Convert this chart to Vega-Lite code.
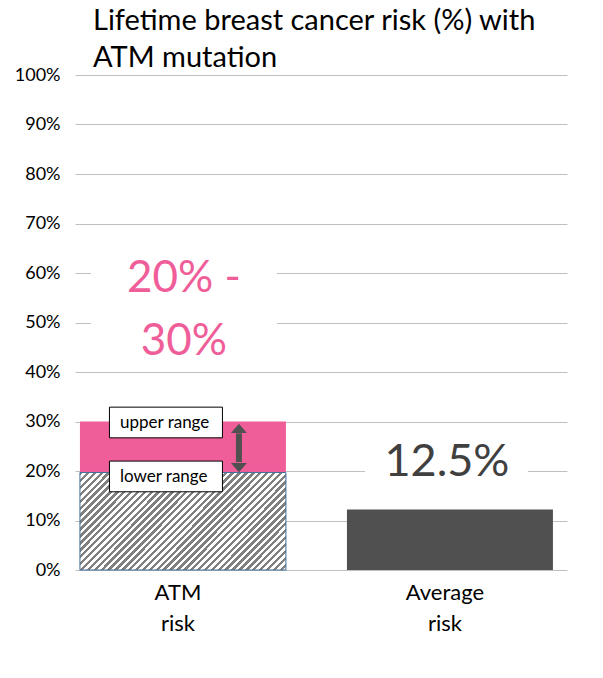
{
  "$schema": "https://vega.github.io/schema/vega-lite/v6.json",
  "autosize": "none",
  "width": 492,
  "height": 495,
  "padding": {"left": 75, "top": 75, "right": 36, "bottom": 108},
  "background": "white",
  "config": {"font": "Lato", "view": {"stroke": null}},
  "title": {
    "text": ["Lifetime breast cancer risk (%) with", "ATM mutation"],
    "anchor": "start",
    "frame": "group",
    "dx": 18,
    "offset": -7,
    "fontSize": 29,
    "fontWeight": "normal",
    "lineHeight": 37,
    "color": "#000000"
  },
  "datasets": {
    "risk": [
      {"category": "ATM risk", "series": "upper range", "low": 0, "high": 30},
      {"category": "ATM risk", "series": "lower range", "low": 0, "high": 19.7},
      {"category": "Average risk", "series": "average", "low": 0, "high": 12.2}
    ]
  },
  "data": {"name": "risk"},
  "encoding": {
    "x": {
      "field": "category",
      "type": "nominal",
      "sort": null,
      "scale": {"paddingInner": 0.2285, "paddingOuter": 0.0356, "align": 0.26},
      "axis": {
        "title": null,
        "domain": false,
        "ticks": false,
        "labelAngle": 0,
        "labelFontSize": 22,
        "labelLineHeight": 31,
        "labelPadding": 12,
        "labelOffset": -5,
        "labelColor": "#000000",
        "labelExpr": "split(datum.label, ' ')"
      }
    },
    "y": {
      "field": "low",
      "type": "quantitative",
      "scale": {"domain": [0, 100], "nice": false},
      "axis": {
        "title": null,
        "domain": false,
        "ticks": false,
        "values": [0, 10, 20, 30, 40, 50, 60, 70, 80, 90, 100],
        "labelExpr": "datum.value + '%'",
        "labelFontSize": 18,
        "labelPadding": 15,
        "labelColor": "#000000",
        "gridColor": "#C0C0C0",
        "gridWidth": 1
      }
    },
    "y2": {"field": "high"}
  },
  "layer": [
    {
      "transform": [{"filter": "datum.series == 'upper range'"}],
      "mark": {"type": "bar", "color": "#EF5E99"}
    },
    {
      "transform": [{"filter": "datum.series == 'lower range'"}],
      "mark": {
        "type": "bar",
        "stroke": "#41719C",
        "strokeWidth": 1,
        "color": {
          "gradient": "linear",
          "x1": 0, "y1": 0, "x2": 1.204, "y2": 0.567,
          "stops": [
            {"offset": 0, "color": "#808080"},
            {"offset": 0.0114, "color": "#808080"}, {"offset": 0.0114, "color": "#ffffff"},
            {"offset": 0.0227, "color": "#ffffff"}, {"offset": 0.0227, "color": "#808080"},
            {"offset": 0.0341, "color": "#808080"}, {"offset": 0.0341, "color": "#ffffff"},
            {"offset": 0.0455, "color": "#ffffff"}, {"offset": 0.0455, "color": "#808080"},
            {"offset": 0.0568, "color": "#808080"}, {"offset": 0.0568, "color": "#ffffff"},
            {"offset": 0.0682, "color": "#ffffff"}, {"offset": 0.0682, "color": "#808080"},
            {"offset": 0.0795, "color": "#808080"}, {"offset": 0.0795, "color": "#ffffff"},
            {"offset": 0.0909, "color": "#ffffff"}, {"offset": 0.0909, "color": "#808080"},
            {"offset": 0.1023, "color": "#808080"}, {"offset": 0.1023, "color": "#ffffff"},
            {"offset": 0.1136, "color": "#ffffff"}, {"offset": 0.1136, "color": "#808080"},
            {"offset": 0.125, "color": "#808080"}, {"offset": 0.125, "color": "#ffffff"},
            {"offset": 0.1364, "color": "#ffffff"}, {"offset": 0.1364, "color": "#808080"},
            {"offset": 0.1477, "color": "#808080"}, {"offset": 0.1477, "color": "#ffffff"},
            {"offset": 0.1591, "color": "#ffffff"}, {"offset": 0.1591, "color": "#808080"},
            {"offset": 0.1705, "color": "#808080"}, {"offset": 0.1705, "color": "#ffffff"},
            {"offset": 0.1818, "color": "#ffffff"}, {"offset": 0.1818, "color": "#808080"},
            {"offset": 0.1932, "color": "#808080"}, {"offset": 0.1932, "color": "#ffffff"},
            {"offset": 0.2045, "color": "#ffffff"}, {"offset": 0.2045, "color": "#808080"},
            {"offset": 0.2159, "color": "#808080"}, {"offset": 0.2159, "color": "#ffffff"},
            {"offset": 0.2273, "color": "#ffffff"}, {"offset": 0.2273, "color": "#808080"},
            {"offset": 0.2386, "color": "#808080"}, {"offset": 0.2386, "color": "#ffffff"},
            {"offset": 0.25, "color": "#ffffff"}, {"offset": 0.25, "color": "#808080"},
            {"offset": 0.2614, "color": "#808080"}, {"offset": 0.2614, "color": "#ffffff"},
            {"offset": 0.2727, "color": "#ffffff"}, {"offset": 0.2727, "color": "#808080"},
            {"offset": 0.2841, "color": "#808080"}, {"offset": 0.2841, "color": "#ffffff"},
            {"offset": 0.2955, "color": "#ffffff"}, {"offset": 0.2955, "color": "#808080"},
            {"offset": 0.3068, "color": "#808080"}, {"offset": 0.3068, "color": "#ffffff"},
            {"offset": 0.3182, "color": "#ffffff"}, {"offset": 0.3182, "color": "#808080"},
            {"offset": 0.3295, "color": "#808080"}, {"offset": 0.3295, "color": "#ffffff"},
            {"offset": 0.3409, "color": "#ffffff"}, {"offset": 0.3409, "color": "#808080"},
            {"offset": 0.3523, "color": "#808080"}, {"offset": 0.3523, "color": "#ffffff"},
            {"offset": 0.3636, "color": "#ffffff"}, {"offset": 0.3636, "color": "#808080"},
            {"offset": 0.375, "color": "#808080"}, {"offset": 0.375, "color": "#ffffff"},
            {"offset": 0.3864, "color": "#ffffff"}, {"offset": 0.3864, "color": "#808080"},
            {"offset": 0.3977, "color": "#808080"}, {"offset": 0.3977, "color": "#ffffff"},
            {"offset": 0.4091, "color": "#ffffff"}, {"offset": 0.4091, "color": "#808080"},
            {"offset": 0.4205, "color": "#808080"}, {"offset": 0.4205, "color": "#ffffff"},
            {"offset": 0.4318, "color": "#ffffff"}, {"offset": 0.4318, "color": "#808080"},
            {"offset": 0.4432, "color": "#808080"}, {"offset": 0.4432, "color": "#ffffff"},
            {"offset": 0.4545, "color": "#ffffff"}, {"offset": 0.4545, "color": "#808080"},
            {"offset": 0.4659, "color": "#808080"}, {"offset": 0.4659, "color": "#ffffff"},
            {"offset": 0.4773, "color": "#ffffff"}, {"offset": 0.4773, "color": "#808080"},
            {"offset": 0.4886, "color": "#808080"}, {"offset": 0.4886, "color": "#ffffff"},
            {"offset": 0.5, "color": "#ffffff"}, {"offset": 0.5, "color": "#808080"},
            {"offset": 0.5114, "color": "#808080"}, {"offset": 0.5114, "color": "#ffffff"},
            {"offset": 0.5227, "color": "#ffffff"}, {"offset": 0.5227, "color": "#808080"},
            {"offset": 0.5341, "color": "#808080"}, {"offset": 0.5341, "color": "#ffffff"},
            {"offset": 0.5455, "color": "#ffffff"}, {"offset": 0.5455, "color": "#808080"},
            {"offset": 0.5568, "color": "#808080"}, {"offset": 0.5568, "color": "#ffffff"},
            {"offset": 0.5682, "color": "#ffffff"}, {"offset": 0.5682, "color": "#808080"},
            {"offset": 0.5795, "color": "#808080"}, {"offset": 0.5795, "color": "#ffffff"},
            {"offset": 0.5909, "color": "#ffffff"}, {"offset": 0.5909, "color": "#808080"},
            {"offset": 0.6023, "color": "#808080"}, {"offset": 0.6023, "color": "#ffffff"},
            {"offset": 0.6136, "color": "#ffffff"}, {"offset": 0.6136, "color": "#808080"},
            {"offset": 0.625, "color": "#808080"}, {"offset": 0.625, "color": "#ffffff"},
            {"offset": 0.6364, "color": "#ffffff"}, {"offset": 0.6364, "color": "#808080"},
            {"offset": 0.6477, "color": "#808080"}, {"offset": 0.6477, "color": "#ffffff"},
            {"offset": 0.6591, "color": "#ffffff"}, {"offset": 0.6591, "color": "#808080"},
            {"offset": 0.6705, "color": "#808080"}, {"offset": 0.6705, "color": "#ffffff"},
            {"offset": 0.6818, "color": "#ffffff"}, {"offset": 0.6818, "color": "#808080"},
            {"offset": 0.6932, "color": "#808080"}, {"offset": 0.6932, "color": "#ffffff"},
            {"offset": 0.7045, "color": "#ffffff"}, {"offset": 0.7045, "color": "#808080"},
            {"offset": 0.7159, "color": "#808080"}, {"offset": 0.7159, "color": "#ffffff"},
            {"offset": 0.7273, "color": "#ffffff"}, {"offset": 0.7273, "color": "#808080"},
            {"offset": 0.7386, "color": "#808080"}, {"offset": 0.7386, "color": "#ffffff"},
            {"offset": 0.75, "color": "#ffffff"}, {"offset": 0.75, "color": "#808080"},
            {"offset": 0.7614, "color": "#808080"}, {"offset": 0.7614, "color": "#ffffff"},
            {"offset": 0.7727, "color": "#ffffff"}, {"offset": 0.7727, "color": "#808080"},
            {"offset": 0.7841, "color": "#808080"}, {"offset": 0.7841, "color": "#ffffff"},
            {"offset": 0.7955, "color": "#ffffff"}, {"offset": 0.7955, "color": "#808080"},
            {"offset": 0.8068, "color": "#808080"}, {"offset": 0.8068, "color": "#ffffff"},
            {"offset": 0.8182, "color": "#ffffff"}, {"offset": 0.8182, "color": "#808080"},
            {"offset": 0.8295, "color": "#808080"}, {"offset": 0.8295, "color": "#ffffff"},
            {"offset": 0.8409, "color": "#ffffff"}, {"offset": 0.8409, "color": "#808080"},
            {"offset": 0.8523, "color": "#808080"}, {"offset": 0.8523, "color": "#ffffff"},
            {"offset": 0.8636, "color": "#ffffff"}, {"offset": 0.8636, "color": "#808080"},
            {"offset": 0.875, "color": "#808080"}, {"offset": 0.875, "color": "#ffffff"},
            {"offset": 0.8864, "color": "#ffffff"}, {"offset": 0.8864, "color": "#808080"},
            {"offset": 0.8977, "color": "#808080"}, {"offset": 0.8977, "color": "#ffffff"},
            {"offset": 0.9091, "color": "#ffffff"}, {"offset": 0.9091, "color": "#808080"},
            {"offset": 0.9205, "color": "#808080"}, {"offset": 0.9205, "color": "#ffffff"},
            {"offset": 0.9318, "color": "#ffffff"}, {"offset": 0.9318, "color": "#808080"},
            {"offset": 0.9432, "color": "#808080"}, {"offset": 0.9432, "color": "#ffffff"},
            {"offset": 0.9545, "color": "#ffffff"}, {"offset": 0.9545, "color": "#808080"},
            {"offset": 0.9659, "color": "#808080"}, {"offset": 0.9659, "color": "#ffffff"},
            {"offset": 0.9773, "color": "#ffffff"}, {"offset": 0.9773, "color": "#808080"},
            {"offset": 0.9886, "color": "#808080"}, {"offset": 0.9886, "color": "#ffffff"},
            {"offset": 1, "color": "#ffffff"}
          ]
        }
      }
    },
    {
      "transform": [{"filter": "datum.series == 'average'"}],
      "mark": {"type": "bar", "color": "#505050"}
    },
    {
      "data": {"values": [
        {"category": "ATM risk", "low": 41.4, "high": 68.7},
        {"category": "Average risk", "low": 13, "high": 29.3}
      ]},
      "mark": {"type": "bar", "color": "#ffffff", "width": {"expr": "datum.category == 'ATM risk' ? 186 : 163"}, "xOffset": {"expr": "datum.category == 'ATM risk' ? 1 : -3.5"}}
    },
    {
      "data": {"values": [
        {"category": "ATM risk", "label": "20% -", "low": 56.2},
        {"category": "ATM risk", "label": "30%", "low": 43.4}
      ]},
      "mark": {"type": "text", "fontSize": 44, "color": "#EF5E99", "baseline": "alphabetic", "align": "center", "xOffset": 1},
      "encoding": {"text": {"field": "label"}, "y2": null}
    },
    {
      "data": {"values": [
        {"category": "Average risk", "label": "12.5%", "low": 19.0}
      ]},
      "mark": {"type": "text", "fontSize": 45, "color": "#404040", "baseline": "alphabetic", "align": "center", "xOffset": -3},
      "encoding": {"text": {"field": "label"}, "y2": null}
    },
    {
      "data": {"values": [
        {"category": "ATM risk", "label": "upper range", "low": 26.7, "high": 32.9},
        {"category": "ATM risk", "label": "lower range", "low": 15.8, "high": 22.0}
      ]},
      "mark": {"type": "bar", "color": "#ffffff", "stroke": "#000000", "strokeWidth": 1, "width": 113, "xOffset": -17}
    },
    {
      "data": {"values": [
        {"category": "ATM risk", "label": "upper range", "low": 28.7},
        {"category": "ATM risk", "label": "lower range", "low": 17.8}
      ]},
      "mark": {"type": "text", "fontSize": 17, "color": "#000000", "baseline": "alphabetic", "align": "left", "xOffset": -63},
      "encoding": {"text": {"field": "label"}, "y2": null}
    },
    {
      "data": {"values": [
        {"category": "ATM risk", "low": 21.8, "high": 27.6}
      ]},
      "mark": {"type": "rule", "color": "#505050", "strokeWidth": 6, "xOffset": 56}
    },
    {
      "data": {"values": [
        {"category": "ATM risk", "head": "up", "low": 27.7},
        {"category": "ATM risk", "head": "down", "low": 21.6}
      ]},
      "mark": {"type": "point", "filled": true, "opacity": 1, "color": "#505050", "size": 256, "xOffset": 56, "strokeWidth": 0},
      "encoding": {
        "y2": null,
        "shape": {
          "field": "head",
          "type": "nominal",
          "legend": null,
          "scale": {"domain": ["up", "down"], "range": ["M-1,0L1,0L0,-1.15Z", "M-1,0L1,0L0,1.15Z"]}
        }
      }
    }
  ]
}
